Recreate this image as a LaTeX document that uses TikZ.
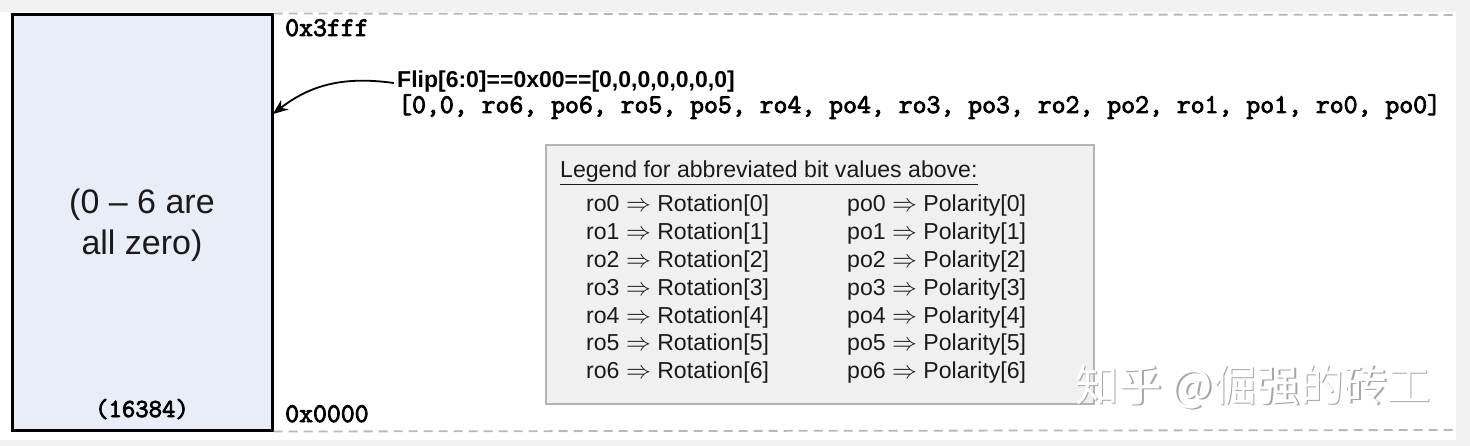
\documentclass[tikz,border=0pt]{standalone}
\usepackage{fontspec}
\setmainfont{Liberation Sans}
\newfontfamily\cour{Latin Modern Mono}[UprightFeatures={FakeBold=3}]
\newfontfamily\cjk{Noto Sans CJK SC}
\usetikzlibrary{arrows.meta}
\definecolor{bggray}{HTML}{F2F2F2}
\definecolor{memfill}{HTML}{E8EDF7}
\definecolor{legfill}{HTML}{F0F0F0}
\definecolor{legline}{HTML}{B4B4B4}
\definecolor{dashgray}{HTML}{B8B8B8}
\definecolor{txt}{HTML}{1A1A1A}
\tikzset{
  monolab/.style={anchor=base west, inner sep=0pt, font=\cour\fontsize{27}{29}\selectfont},
  legrow/.style={anchor=base west, inner sep=0pt, text=txt, font=\fontsize{23.1}{27}\selectfont},
  boundary/.style={draw=dashgray, line width=1.8pt, dash pattern=on 9pt off 6pt},
}
\begin{document}
\begin{tikzpicture}[x=1pt,y=-1pt]
\useasboundingbox (0,0) rectangle (1470,446);
\fill[bggray] (0,0) rectangle (1470,446);
\fill[white] (0,12) rectangle (1456,440);
% dashed boundaries
\coordinate (topR) at (1456,15);
\coordinate (botR) at (1456,430);
% memory block
\node[draw=black, line width=3pt, fill=memfill, minimum width=260pt, minimum height=415pt, inner sep=0pt] (mem) at (142,222.5) {};
\draw[boundary] (mem.north east) -- (topR);
\draw[boundary] (mem.south east) -- (botR);
\node[align=center, font=\fontsize{34}{41}\selectfont, text=txt] (memtxt) at (142,225) {(0 -- 6 are\\all zero)};
\node[anchor=base, inner sep=0pt, font=\cour\fontsize{26}{28}\selectfont] (size) at (142,417) {(16384)};
\node[monolab] (hi) at (285,36) {0x3fff};
\node[monolab] (lo) at (285,422) {0x0000};
% flip label
\node[anchor=base west, inner sep=0pt, font=\bfseries\fontsize{23}{26}\selectfont] (flip) at (397,88) {Flip[6:0]==0x00==[0,0,0,0,0,0,0]};
\node[monolab] (bits) at (398,113) {[0,0, ro6, po6, ro5, po5, ro4, po4, ro3, po3, ro2, po2, ro1, po1, ro0, po0]};
\coordinate (tip) at (273,114);
\draw[line width=1.8pt, -{Stealth[length=15pt,width=12pt]}] ([xshift=-3pt,yshift=-1pt]flip.west) to[out=172,in=38] (tip);
% legend
\node[draw=legline, line width=1.8pt, fill=legfill, minimum width=548pt, minimum height=259pt, inner sep=0pt] (legend) at (820,274.5) {};
\node[legrow] (legtitle) at (560,178) {\underline{Legend for abbreviated bit values above:}};
\foreach \i in {0,...,6} {
  \pgfmathsetmacro{\yy}{212+27.8*\i}
  \node[legrow] (ro\i) at (586,\yy) {ro\i\ $\Rightarrow$ Rotation[\i]};
  \node[legrow] (po\i) at (847,\yy) {po\i\ $\Rightarrow$ Polarity[\i]};
}
% watermark
\node[anchor=base west, inner sep=0pt, text=black!35, font=\cjk\fontsize{43.5}{46}\selectfont] (wmshadow) at (1076.5,402.5) {知乎 @倔强的砖工};
\node[anchor=base west, inner sep=0pt, text=white, font=\cjk\fontsize{43.5}{46}\selectfont] (wm) at (1075,401) {知乎 @倔强的砖工};
\end{tikzpicture}
\end{document}
